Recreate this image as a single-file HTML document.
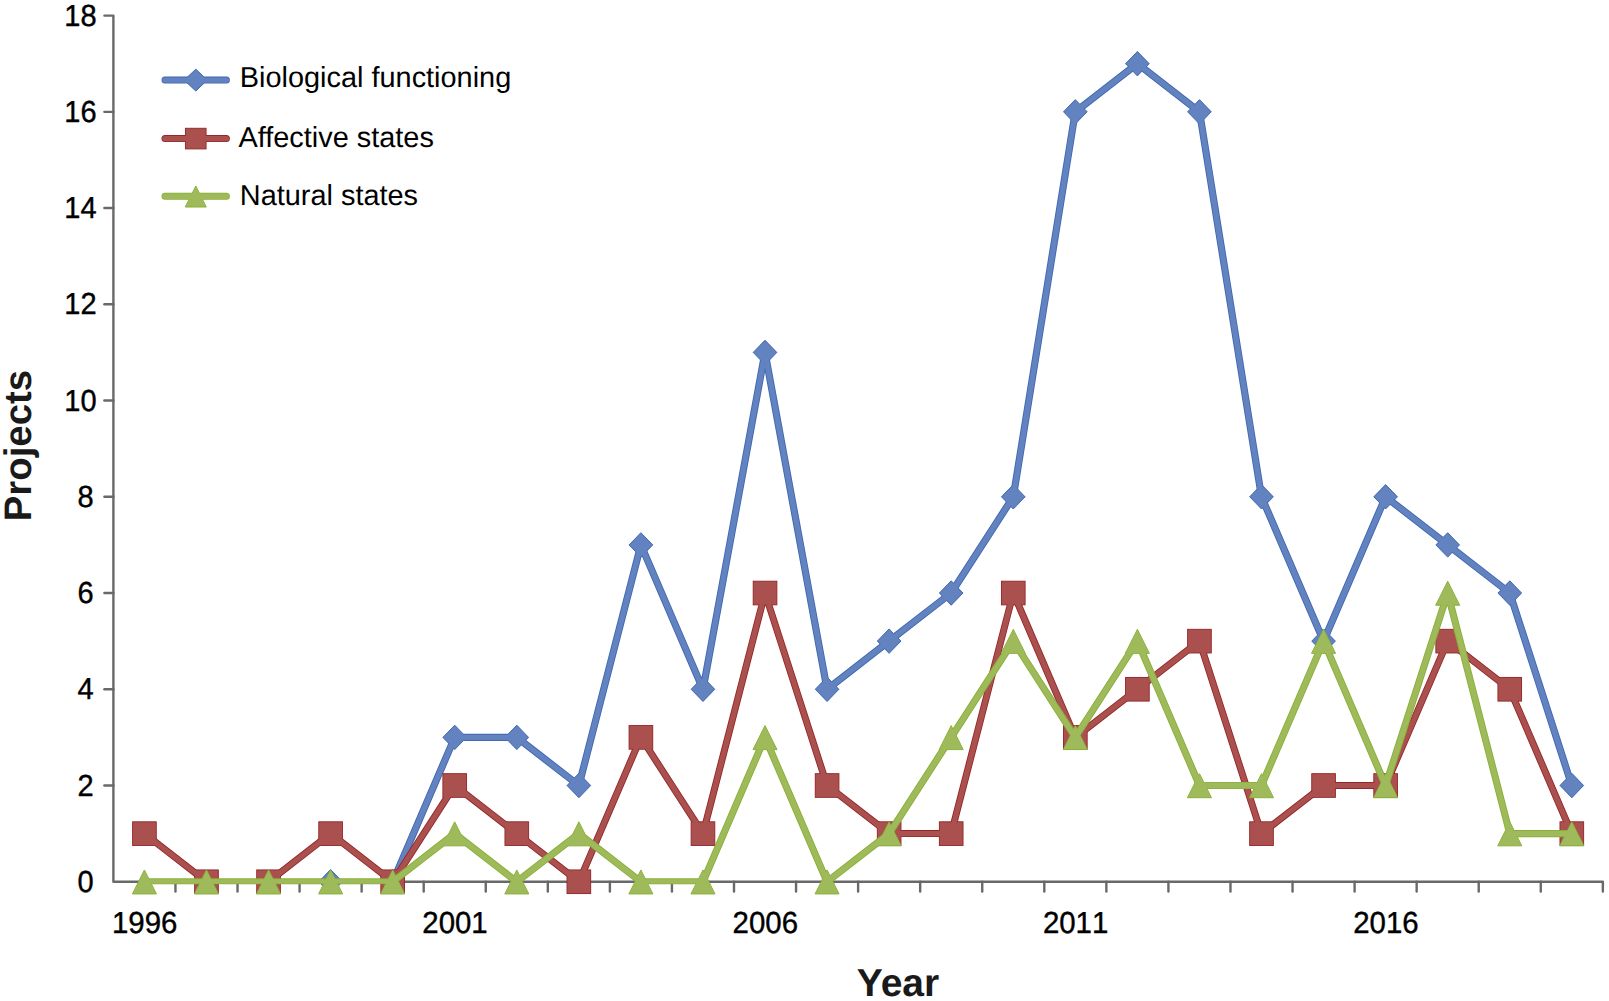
<!DOCTYPE html>
<html><head><meta charset="utf-8"><title>Projects per year</title>
<style>html,body{margin:0;padding:0;background:#fff}svg{display:block}text{font-family:"Liberation Sans",sans-serif;text-rendering:geometricPrecision}</style></head><body>
<svg width="1609" height="1001" viewBox="0 0 1609 1001">
<defs><clipPath id="pc"><rect x="0" y="0" width="1609" height="884.3"/></clipPath><clipPath id="pc2"><rect x="0" y="0" width="1609" height="883.4"/></clipPath></defs>
<rect width="1609" height="1001" fill="#fff"/>
<g stroke="#696969" stroke-width="2.4" fill="none" stroke-linecap="round" stroke-linejoin="round">
<path d="M104.4 15.59H113.4V881.75H1602.85V891.6"/>
<path d="M104.4 785.51H113.4"/>
<path d="M104.4 689.27H113.4"/>
<path d="M104.4 593.03H113.4"/>
<path d="M104.4 496.79H113.4"/>
<path d="M104.4 400.55H113.4"/>
<path d="M104.4 304.31H113.4"/>
<path d="M104.4 208.07H113.4"/>
<path d="M104.4 111.83H113.4"/>
<path d="M175.46 881.75V891.6"/>
<path d="M237.52 881.75V891.6"/>
<path d="M299.58 881.75V891.6"/>
<path d="M361.64 881.75V891.6"/>
<path d="M423.70 881.75V891.6"/>
<path d="M485.76 881.75V891.6"/>
<path d="M547.82 881.75V891.6"/>
<path d="M609.88 881.75V891.6"/>
<path d="M671.94 881.75V891.6"/>
<path d="M734.00 881.75V891.6"/>
<path d="M796.06 881.75V891.6"/>
<path d="M858.12 881.75V891.6"/>
<path d="M920.18 881.75V891.6"/>
<path d="M982.24 881.75V891.6"/>
<path d="M1044.30 881.75V891.6"/>
<path d="M1106.36 881.75V891.6"/>
<path d="M1168.42 881.75V891.6"/>
<path d="M1230.48 881.75V891.6"/>
<path d="M1292.54 881.75V891.6"/>
<path d="M1354.60 881.75V891.6"/>
<path d="M1416.66 881.75V891.6"/>
<path d="M1478.72 881.75V891.6"/>
<path d="M1540.78 881.75V891.6"/>
</g>
<g font-size="30.4" fill="#000" stroke="#000" stroke-width="0.4" text-anchor="end" style="font-kerning:none">
<text transform="translate(93.6 891.8) scale(0.955 1)">0</text>
<text transform="translate(93.6 795.5) scale(0.955 1)">2</text>
<text transform="translate(93.6 699.3) scale(0.955 1)">4</text>
<text transform="translate(93.6 603.0) scale(0.955 1)">6</text>
<text transform="translate(93.6 506.8) scale(0.955 1)">8</text>
<text transform="translate(96.6 410.6) scale(0.955 1)">10</text>
<text transform="translate(96.6 314.3) scale(0.955 1)">12</text>
<text transform="translate(96.6 218.1) scale(0.955 1)">14</text>
<text transform="translate(96.6 121.8) scale(0.955 1)">16</text>
<text transform="translate(96.6 25.6) scale(0.955 1)">18</text>
</g>
<g font-size="30.4" fill="#000" stroke="#000" stroke-width="0.4" text-anchor="middle" style="font-kerning:none">
<text transform="translate(144.7 933.2) scale(0.968 1)">1996</text>
<text transform="translate(455.0 933.2) scale(0.968 1)">2001</text>
<text transform="translate(765.3 933.2) scale(0.968 1)">2006</text>
<text transform="translate(1075.6 933.2) scale(0.968 1)">2011</text>
<text transform="translate(1385.9 933.2) scale(0.968 1)">2016</text>
</g>
<path d="M330.6 881.8 M392.7 881.8 L454.7 737.4 L516.8 737.4 L578.9 785.5 L640.9 544.9 L703.0 689.3 L765.0 352.4 L827.1 689.3 L889.1 641.1 L951.2 593.0 L1013.3 496.8 L1075.3 111.8 L1137.4 63.7 L1199.5 111.8 L1261.5 496.8 L1323.6 641.1 L1385.6 496.8 L1447.7 544.9 L1509.8 593.0 L1571.8 785.5" clip-path="url(#pc)" fill="none" stroke="#3f67b2" stroke-width="7.2" stroke-linejoin="round" stroke-linecap="round"/>
<path d="M330.6 869.55L342.41 881.8L330.6 893.95L318.81 881.8Z" fill="#3f67b2" stroke="#3f67b2" stroke-width="1"/>
<path d="M392.7 869.55L404.47 881.8L392.7 893.95L380.87 881.8Z" fill="#3f67b2" stroke="#3f67b2" stroke-width="1"/>
<path d="M454.7 725.19L466.53 737.4L454.7 749.59L442.93 737.4Z" fill="#3f67b2" stroke="#3f67b2" stroke-width="1"/>
<path d="M516.8 725.19L528.59 737.4L516.8 749.59L504.99 737.4Z" fill="#3f67b2" stroke="#3f67b2" stroke-width="1"/>
<path d="M578.9 773.31L590.65 785.5L578.9 797.71L567.05 785.5Z" fill="#3f67b2" stroke="#3f67b2" stroke-width="1"/>
<path d="M640.9 532.71L652.71 544.9L640.9 557.11L629.11 544.9Z" fill="#3f67b2" stroke="#3f67b2" stroke-width="1"/>
<path d="M703.0 677.07L714.77 689.3L703.0 701.47L691.17 689.3Z" fill="#3f67b2" stroke="#3f67b2" stroke-width="1"/>
<path d="M765.0 340.23L776.83 352.4L765.0 364.63L753.23 352.4Z" fill="#3f67b2" stroke="#3f67b2" stroke-width="1"/>
<path d="M827.1 677.07L838.89 689.3L827.1 701.47L815.29 689.3Z" fill="#3f67b2" stroke="#3f67b2" stroke-width="1"/>
<path d="M889.1 628.95L900.95 641.1L889.1 653.35L877.35 641.1Z" fill="#3f67b2" stroke="#3f67b2" stroke-width="1"/>
<path d="M951.2 580.83L963.01 593.0L951.2 605.23L939.41 593.0Z" fill="#3f67b2" stroke="#3f67b2" stroke-width="1"/>
<path d="M1013.3 484.59L1025.07 496.8L1013.3 508.99L1001.47 496.8Z" fill="#3f67b2" stroke="#3f67b2" stroke-width="1"/>
<path d="M1075.3 99.63L1087.13 111.8L1075.3 124.03L1063.53 111.8Z" fill="#3f67b2" stroke="#3f67b2" stroke-width="1"/>
<path d="M1137.4 51.51L1149.19 63.7L1137.4 75.91L1125.59 63.7Z" fill="#3f67b2" stroke="#3f67b2" stroke-width="1"/>
<path d="M1199.5 99.63L1211.25 111.8L1199.5 124.03L1187.65 111.8Z" fill="#3f67b2" stroke="#3f67b2" stroke-width="1"/>
<path d="M1261.5 484.59L1273.31 496.8L1261.5 508.99L1249.71 496.8Z" fill="#3f67b2" stroke="#3f67b2" stroke-width="1"/>
<path d="M1323.6 628.95L1335.37 641.1L1323.6 653.35L1311.77 641.1Z" fill="#3f67b2" stroke="#3f67b2" stroke-width="1"/>
<path d="M1385.6 484.59L1397.43 496.8L1385.6 508.99L1373.83 496.8Z" fill="#3f67b2" stroke="#3f67b2" stroke-width="1"/>
<path d="M1447.7 532.71L1459.49 544.9L1447.7 557.11L1435.89 544.9Z" fill="#3f67b2" stroke="#3f67b2" stroke-width="1"/>
<path d="M1509.8 580.83L1521.55 593.0L1509.8 605.23L1497.95 593.0Z" fill="#3f67b2" stroke="#3f67b2" stroke-width="1"/>
<path d="M1571.8 773.31L1583.61 785.5L1571.8 797.71L1560.01 785.5Z" fill="#3f67b2" stroke="#3f67b2" stroke-width="1"/>
<path d="M330.6 881.8 M392.7 881.8 L454.7 737.4 L516.8 737.4 L578.9 785.5 L640.9 544.9 L703.0 689.3 L765.0 352.4 L827.1 689.3 L889.1 641.1 L951.2 593.0 L1013.3 496.8 L1075.3 111.8 L1137.4 63.7 L1199.5 111.8 L1261.5 496.8 L1323.6 641.1 L1385.6 496.8 L1447.7 544.9 L1509.8 593.0 L1571.8 785.5" clip-path="url(#pc2)" fill="none" stroke="#6283bf" stroke-width="5.40" stroke-linejoin="round" stroke-linecap="round"/>
<path d="M330.6 869.95L342.01 881.8L330.6 893.55L319.21 881.8Z" fill="#6283bf" stroke="none" stroke-width="1"/>
<path d="M392.7 869.95L404.07 881.8L392.7 893.55L381.27 881.8Z" fill="#6283bf" stroke="none" stroke-width="1"/>
<path d="M454.7 725.59L466.13 737.4L454.7 749.19L443.33 737.4Z" fill="#6283bf" stroke="none" stroke-width="1"/>
<path d="M516.8 725.59L528.19 737.4L516.8 749.19L505.39 737.4Z" fill="#6283bf" stroke="none" stroke-width="1"/>
<path d="M578.9 773.71L590.25 785.5L578.9 797.31L567.45 785.5Z" fill="#6283bf" stroke="none" stroke-width="1"/>
<path d="M640.9 533.11L652.31 544.9L640.9 556.71L629.51 544.9Z" fill="#6283bf" stroke="none" stroke-width="1"/>
<path d="M703.0 677.47L714.37 689.3L703.0 701.07L691.57 689.3Z" fill="#6283bf" stroke="none" stroke-width="1"/>
<path d="M765.0 340.63L776.43 352.4L765.0 364.23L753.63 352.4Z" fill="#6283bf" stroke="none" stroke-width="1"/>
<path d="M827.1 677.47L838.49 689.3L827.1 701.07L815.69 689.3Z" fill="#6283bf" stroke="none" stroke-width="1"/>
<path d="M889.1 629.35L900.55 641.1L889.1 652.95L877.75 641.1Z" fill="#6283bf" stroke="none" stroke-width="1"/>
<path d="M951.2 581.23L962.61 593.0L951.2 604.83L939.81 593.0Z" fill="#6283bf" stroke="none" stroke-width="1"/>
<path d="M1013.3 484.99L1024.67 496.8L1013.3 508.59L1001.87 496.8Z" fill="#6283bf" stroke="none" stroke-width="1"/>
<path d="M1075.3 100.03L1086.73 111.8L1075.3 123.63L1063.93 111.8Z" fill="#6283bf" stroke="none" stroke-width="1"/>
<path d="M1137.4 51.91L1148.79 63.7L1137.4 75.51L1125.99 63.7Z" fill="#6283bf" stroke="none" stroke-width="1"/>
<path d="M1199.5 100.03L1210.85 111.8L1199.5 123.63L1188.05 111.8Z" fill="#6283bf" stroke="none" stroke-width="1"/>
<path d="M1261.5 484.99L1272.91 496.8L1261.5 508.59L1250.11 496.8Z" fill="#6283bf" stroke="none" stroke-width="1"/>
<path d="M1323.6 629.35L1334.97 641.1L1323.6 652.95L1312.17 641.1Z" fill="#6283bf" stroke="none" stroke-width="1"/>
<path d="M1385.6 484.99L1397.03 496.8L1385.6 508.59L1374.23 496.8Z" fill="#6283bf" stroke="none" stroke-width="1"/>
<path d="M1447.7 533.11L1459.09 544.9L1447.7 556.71L1436.29 544.9Z" fill="#6283bf" stroke="none" stroke-width="1"/>
<path d="M1509.8 581.23L1521.15 593.0L1509.8 604.83L1498.35 593.0Z" fill="#6283bf" stroke="none" stroke-width="1"/>
<path d="M1571.8 773.71L1583.21 785.5L1571.8 797.31L1560.41 785.5Z" fill="#6283bf" stroke="none" stroke-width="1"/>
<path d="M144.4 833.6 L206.5 881.8 M268.6 881.8 L330.6 833.6 L392.7 881.8 L454.7 785.5 L516.8 833.6 L578.9 881.8 L640.9 737.4 L703.0 833.6 L765.0 593.0 L827.1 785.5 L889.1 833.6 L951.2 833.6 L1013.3 593.0 L1075.3 737.4 L1137.4 689.3 L1199.5 641.1 L1261.5 833.6 L1323.6 785.5 L1385.6 785.5 L1447.7 641.1 L1509.8 689.3 L1571.8 833.6" clip-path="url(#pc)" fill="none" stroke="#952829" stroke-width="7.0" stroke-linejoin="round" stroke-linecap="round"/>
<rect x="132.63" y="821.83" width="23.6" height="23.6" fill="#952829" stroke="#952829" stroke-width="1"/>
<rect x="194.69" y="869.95" width="23.6" height="23.6" fill="#952829" stroke="#952829" stroke-width="1"/>
<rect x="256.75" y="869.95" width="23.6" height="23.6" fill="#952829" stroke="#952829" stroke-width="1"/>
<rect x="318.81" y="821.83" width="23.6" height="23.6" fill="#952829" stroke="#952829" stroke-width="1"/>
<rect x="380.87" y="869.95" width="23.6" height="23.6" fill="#952829" stroke="#952829" stroke-width="1"/>
<rect x="442.93" y="773.71" width="23.6" height="23.6" fill="#952829" stroke="#952829" stroke-width="1"/>
<rect x="504.99" y="821.83" width="23.6" height="23.6" fill="#952829" stroke="#952829" stroke-width="1"/>
<rect x="567.05" y="869.95" width="23.6" height="23.6" fill="#952829" stroke="#952829" stroke-width="1"/>
<rect x="629.11" y="725.59" width="23.6" height="23.6" fill="#952829" stroke="#952829" stroke-width="1"/>
<rect x="691.17" y="821.83" width="23.6" height="23.6" fill="#952829" stroke="#952829" stroke-width="1"/>
<rect x="753.23" y="581.23" width="23.6" height="23.6" fill="#952829" stroke="#952829" stroke-width="1"/>
<rect x="815.29" y="773.71" width="23.6" height="23.6" fill="#952829" stroke="#952829" stroke-width="1"/>
<rect x="877.35" y="821.83" width="23.6" height="23.6" fill="#952829" stroke="#952829" stroke-width="1"/>
<rect x="939.41" y="821.83" width="23.6" height="23.6" fill="#952829" stroke="#952829" stroke-width="1"/>
<rect x="1001.47" y="581.23" width="23.6" height="23.6" fill="#952829" stroke="#952829" stroke-width="1"/>
<rect x="1063.53" y="725.59" width="23.6" height="23.6" fill="#952829" stroke="#952829" stroke-width="1"/>
<rect x="1125.59" y="677.47" width="23.6" height="23.6" fill="#952829" stroke="#952829" stroke-width="1"/>
<rect x="1187.65" y="629.35" width="23.6" height="23.6" fill="#952829" stroke="#952829" stroke-width="1"/>
<rect x="1249.71" y="821.83" width="23.6" height="23.6" fill="#952829" stroke="#952829" stroke-width="1"/>
<rect x="1311.77" y="773.71" width="23.6" height="23.6" fill="#952829" stroke="#952829" stroke-width="1"/>
<rect x="1373.83" y="773.71" width="23.6" height="23.6" fill="#952829" stroke="#952829" stroke-width="1"/>
<rect x="1435.89" y="629.35" width="23.6" height="23.6" fill="#952829" stroke="#952829" stroke-width="1"/>
<rect x="1497.95" y="677.47" width="23.6" height="23.6" fill="#952829" stroke="#952829" stroke-width="1"/>
<rect x="1560.01" y="821.83" width="23.6" height="23.6" fill="#952829" stroke="#952829" stroke-width="1"/>
<path d="M144.4 833.6 L206.5 881.8 M268.6 881.8 L330.6 833.6 L392.7 881.8 L454.7 785.5 L516.8 833.6 L578.9 881.8 L640.9 737.4 L703.0 833.6 L765.0 593.0 L827.1 785.5 L889.1 833.6 L951.2 833.6 L1013.3 593.0 L1075.3 737.4 L1137.4 689.3 L1199.5 641.1 L1261.5 833.6 L1323.6 785.5 L1385.6 785.5 L1447.7 641.1 L1509.8 689.3 L1571.8 833.6" clip-path="url(#pc2)" fill="none" stroke="#aa514f" stroke-width="5.20" stroke-linejoin="round" stroke-linecap="round"/>
<rect x="133.03" y="822.23" width="22.8" height="22.8" fill="#aa514f" stroke="none" stroke-width="1"/>
<rect x="195.09" y="870.35" width="22.8" height="22.8" fill="#aa514f" stroke="none" stroke-width="1"/>
<rect x="257.15" y="870.35" width="22.8" height="22.8" fill="#aa514f" stroke="none" stroke-width="1"/>
<rect x="319.21" y="822.23" width="22.8" height="22.8" fill="#aa514f" stroke="none" stroke-width="1"/>
<rect x="381.27" y="870.35" width="22.8" height="22.8" fill="#aa514f" stroke="none" stroke-width="1"/>
<rect x="443.33" y="774.11" width="22.8" height="22.8" fill="#aa514f" stroke="none" stroke-width="1"/>
<rect x="505.39" y="822.23" width="22.8" height="22.8" fill="#aa514f" stroke="none" stroke-width="1"/>
<rect x="567.45" y="870.35" width="22.8" height="22.8" fill="#aa514f" stroke="none" stroke-width="1"/>
<rect x="629.51" y="725.99" width="22.8" height="22.8" fill="#aa514f" stroke="none" stroke-width="1"/>
<rect x="691.57" y="822.23" width="22.8" height="22.8" fill="#aa514f" stroke="none" stroke-width="1"/>
<rect x="753.63" y="581.63" width="22.8" height="22.8" fill="#aa514f" stroke="none" stroke-width="1"/>
<rect x="815.69" y="774.11" width="22.8" height="22.8" fill="#aa514f" stroke="none" stroke-width="1"/>
<rect x="877.75" y="822.23" width="22.8" height="22.8" fill="#aa514f" stroke="none" stroke-width="1"/>
<rect x="939.81" y="822.23" width="22.8" height="22.8" fill="#aa514f" stroke="none" stroke-width="1"/>
<rect x="1001.87" y="581.63" width="22.8" height="22.8" fill="#aa514f" stroke="none" stroke-width="1"/>
<rect x="1063.93" y="725.99" width="22.8" height="22.8" fill="#aa514f" stroke="none" stroke-width="1"/>
<rect x="1125.99" y="677.87" width="22.8" height="22.8" fill="#aa514f" stroke="none" stroke-width="1"/>
<rect x="1188.05" y="629.75" width="22.8" height="22.8" fill="#aa514f" stroke="none" stroke-width="1"/>
<rect x="1250.11" y="822.23" width="22.8" height="22.8" fill="#aa514f" stroke="none" stroke-width="1"/>
<rect x="1312.17" y="774.11" width="22.8" height="22.8" fill="#aa514f" stroke="none" stroke-width="1"/>
<rect x="1374.23" y="774.11" width="22.8" height="22.8" fill="#aa514f" stroke="none" stroke-width="1"/>
<rect x="1436.29" y="629.75" width="22.8" height="22.8" fill="#aa514f" stroke="none" stroke-width="1"/>
<rect x="1498.35" y="677.87" width="22.8" height="22.8" fill="#aa514f" stroke="none" stroke-width="1"/>
<rect x="1560.41" y="822.23" width="22.8" height="22.8" fill="#aa514f" stroke="none" stroke-width="1"/>
<path d="M144.4 881.8 L206.5 881.8 L268.6 881.8 L330.6 881.8 L392.7 881.8 L454.7 833.6 L516.8 881.8 L578.9 833.6 L640.9 881.8 L703.0 881.8 L765.0 737.4 L827.1 881.8 L889.1 833.6 L951.2 737.4 L1013.3 641.1 L1075.3 737.4 L1137.4 641.1 L1199.5 785.5 L1261.5 785.5 L1323.6 641.1 L1385.6 785.5 L1447.7 593.0 L1509.8 833.6 L1571.8 833.6" clip-path="url(#pc)" fill="none" stroke="#89b035" stroke-width="7.1" stroke-linejoin="round" stroke-linecap="round"/>
<path d="M144.4 869.95L156.43 893.95L132.43 893.95Z" fill="#89b035" stroke="#89b035" stroke-width="1" stroke-linejoin="round"/>
<path d="M206.5 869.95L218.49 893.95L194.49 893.95Z" fill="#89b035" stroke="#89b035" stroke-width="1" stroke-linejoin="round"/>
<path d="M268.6 869.95L280.55 893.95L256.55 893.95Z" fill="#89b035" stroke="#89b035" stroke-width="1" stroke-linejoin="round"/>
<path d="M330.6 869.95L342.61 893.95L318.61 893.95Z" fill="#89b035" stroke="#89b035" stroke-width="1" stroke-linejoin="round"/>
<path d="M392.7 869.95L404.67 893.95L380.67 893.95Z" fill="#89b035" stroke="#89b035" stroke-width="1" stroke-linejoin="round"/>
<path d="M454.7 821.83L466.73 845.83L442.73 845.83Z" fill="#89b035" stroke="#89b035" stroke-width="1" stroke-linejoin="round"/>
<path d="M516.8 869.95L528.79 893.95L504.79 893.95Z" fill="#89b035" stroke="#89b035" stroke-width="1" stroke-linejoin="round"/>
<path d="M578.9 821.83L590.85 845.83L566.85 845.83Z" fill="#89b035" stroke="#89b035" stroke-width="1" stroke-linejoin="round"/>
<path d="M640.9 869.95L652.91 893.95L628.91 893.95Z" fill="#89b035" stroke="#89b035" stroke-width="1" stroke-linejoin="round"/>
<path d="M703.0 869.95L714.97 893.95L690.97 893.95Z" fill="#89b035" stroke="#89b035" stroke-width="1" stroke-linejoin="round"/>
<path d="M765.0 725.59L777.03 749.59L753.03 749.59Z" fill="#89b035" stroke="#89b035" stroke-width="1" stroke-linejoin="round"/>
<path d="M827.1 869.95L839.09 893.95L815.09 893.95Z" fill="#89b035" stroke="#89b035" stroke-width="1" stroke-linejoin="round"/>
<path d="M889.1 821.83L901.15 845.83L877.15 845.83Z" fill="#89b035" stroke="#89b035" stroke-width="1" stroke-linejoin="round"/>
<path d="M951.2 725.59L963.21 749.59L939.21 749.59Z" fill="#89b035" stroke="#89b035" stroke-width="1" stroke-linejoin="round"/>
<path d="M1013.3 629.35L1025.27 653.35L1001.27 653.35Z" fill="#89b035" stroke="#89b035" stroke-width="1" stroke-linejoin="round"/>
<path d="M1075.3 725.59L1087.33 749.59L1063.33 749.59Z" fill="#89b035" stroke="#89b035" stroke-width="1" stroke-linejoin="round"/>
<path d="M1137.4 629.35L1149.39 653.35L1125.39 653.35Z" fill="#89b035" stroke="#89b035" stroke-width="1" stroke-linejoin="round"/>
<path d="M1199.5 773.71L1211.45 797.71L1187.45 797.71Z" fill="#89b035" stroke="#89b035" stroke-width="1" stroke-linejoin="round"/>
<path d="M1261.5 773.71L1273.51 797.71L1249.51 797.71Z" fill="#89b035" stroke="#89b035" stroke-width="1" stroke-linejoin="round"/>
<path d="M1323.6 629.35L1335.57 653.35L1311.57 653.35Z" fill="#89b035" stroke="#89b035" stroke-width="1" stroke-linejoin="round"/>
<path d="M1385.6 773.71L1397.63 797.71L1373.63 797.71Z" fill="#89b035" stroke="#89b035" stroke-width="1" stroke-linejoin="round"/>
<path d="M1447.7 581.23L1459.69 605.23L1435.69 605.23Z" fill="#89b035" stroke="#89b035" stroke-width="1" stroke-linejoin="round"/>
<path d="M1509.8 821.83L1521.75 845.83L1497.75 845.83Z" fill="#89b035" stroke="#89b035" stroke-width="1" stroke-linejoin="round"/>
<path d="M1571.8 821.83L1583.81 845.83L1559.81 845.83Z" fill="#89b035" stroke="#89b035" stroke-width="1" stroke-linejoin="round"/>
<path d="M144.4 881.8 L206.5 881.8 L268.6 881.8 L330.6 881.8 L392.7 881.8 L454.7 833.6 L516.8 881.8 L578.9 833.6 L640.9 881.8 L703.0 881.8 L765.0 737.4 L827.1 881.8 L889.1 833.6 L951.2 737.4 L1013.3 641.1 L1075.3 737.4 L1137.4 641.1 L1199.5 785.5 L1261.5 785.5 L1323.6 641.1 L1385.6 785.5 L1447.7 593.0 L1509.8 833.6 L1571.8 833.6" clip-path="url(#pc2)" fill="none" stroke="#9fba5b" stroke-width="5.30" stroke-linejoin="round" stroke-linecap="round"/>
<path d="M144.4 870.35L156.03 893.55L132.83 893.55Z" fill="#9fba5b" stroke="none" stroke-width="1" stroke-linejoin="round"/>
<path d="M206.5 870.35L218.09 893.55L194.89 893.55Z" fill="#9fba5b" stroke="none" stroke-width="1" stroke-linejoin="round"/>
<path d="M268.6 870.35L280.15 893.55L256.95 893.55Z" fill="#9fba5b" stroke="none" stroke-width="1" stroke-linejoin="round"/>
<path d="M330.6 870.35L342.21 893.55L319.01 893.55Z" fill="#9fba5b" stroke="none" stroke-width="1" stroke-linejoin="round"/>
<path d="M392.7 870.35L404.27 893.55L381.07 893.55Z" fill="#9fba5b" stroke="none" stroke-width="1" stroke-linejoin="round"/>
<path d="M454.7 822.23L466.33 845.43L443.13 845.43Z" fill="#9fba5b" stroke="none" stroke-width="1" stroke-linejoin="round"/>
<path d="M516.8 870.35L528.39 893.55L505.19 893.55Z" fill="#9fba5b" stroke="none" stroke-width="1" stroke-linejoin="round"/>
<path d="M578.9 822.23L590.45 845.43L567.25 845.43Z" fill="#9fba5b" stroke="none" stroke-width="1" stroke-linejoin="round"/>
<path d="M640.9 870.35L652.51 893.55L629.31 893.55Z" fill="#9fba5b" stroke="none" stroke-width="1" stroke-linejoin="round"/>
<path d="M703.0 870.35L714.57 893.55L691.37 893.55Z" fill="#9fba5b" stroke="none" stroke-width="1" stroke-linejoin="round"/>
<path d="M765.0 725.99L776.63 749.19L753.43 749.19Z" fill="#9fba5b" stroke="none" stroke-width="1" stroke-linejoin="round"/>
<path d="M827.1 870.35L838.69 893.55L815.49 893.55Z" fill="#9fba5b" stroke="none" stroke-width="1" stroke-linejoin="round"/>
<path d="M889.1 822.23L900.75 845.43L877.55 845.43Z" fill="#9fba5b" stroke="none" stroke-width="1" stroke-linejoin="round"/>
<path d="M951.2 725.99L962.81 749.19L939.61 749.19Z" fill="#9fba5b" stroke="none" stroke-width="1" stroke-linejoin="round"/>
<path d="M1013.3 629.75L1024.87 652.95L1001.67 652.95Z" fill="#9fba5b" stroke="none" stroke-width="1" stroke-linejoin="round"/>
<path d="M1075.3 725.99L1086.93 749.19L1063.73 749.19Z" fill="#9fba5b" stroke="none" stroke-width="1" stroke-linejoin="round"/>
<path d="M1137.4 629.75L1148.99 652.95L1125.79 652.95Z" fill="#9fba5b" stroke="none" stroke-width="1" stroke-linejoin="round"/>
<path d="M1199.5 774.11L1211.05 797.31L1187.85 797.31Z" fill="#9fba5b" stroke="none" stroke-width="1" stroke-linejoin="round"/>
<path d="M1261.5 774.11L1273.11 797.31L1249.91 797.31Z" fill="#9fba5b" stroke="none" stroke-width="1" stroke-linejoin="round"/>
<path d="M1323.6 629.75L1335.17 652.95L1311.97 652.95Z" fill="#9fba5b" stroke="none" stroke-width="1" stroke-linejoin="round"/>
<path d="M1385.6 774.11L1397.23 797.31L1374.03 797.31Z" fill="#9fba5b" stroke="none" stroke-width="1" stroke-linejoin="round"/>
<path d="M1447.7 581.63L1459.29 604.83L1436.09 604.83Z" fill="#9fba5b" stroke="none" stroke-width="1" stroke-linejoin="round"/>
<path d="M1509.8 822.23L1521.35 845.43L1498.15 845.43Z" fill="#9fba5b" stroke="none" stroke-width="1" stroke-linejoin="round"/>
<path d="M1571.8 822.23L1583.41 845.43L1560.21 845.43Z" fill="#9fba5b" stroke="none" stroke-width="1" stroke-linejoin="round"/>
<path d="M165 80.1H226.4" stroke="#3f67b2" stroke-width="7.0" stroke-linecap="round"/>
<path d="M195.8 69.20L207.35 80.1L195.8 91.00L184.15 80.1Z" fill="#3f67b2" stroke="#3f67b2" stroke-width="1"/>
<path d="M165 80.1H226.4" stroke="#6283bf" stroke-width="5.4" stroke-linecap="round"/>
<path d="M195.8 69.60L206.95 80.1L195.8 90.60L184.55 80.1Z" fill="#6283bf" stroke="none" stroke-width="1"/>
<text x="239.8" y="87.3" font-size="28.9" fill="#000">Biological functioning</text>
<path d="M165 138.6H226.4" stroke="#952829" stroke-width="7.0" stroke-linecap="round"/>
<rect x="185.45" y="128.30" width="20.6" height="20.6" fill="#952829" stroke="#952829" stroke-width="1"/>
<path d="M165 138.6H226.4" stroke="#aa514f" stroke-width="5.4" stroke-linecap="round"/>
<rect x="185.85" y="128.70" width="19.8" height="19.8" fill="#aa514f" stroke="none" stroke-width="1"/>
<text x="238.5" y="146.7" font-size="28.9" fill="#000">Affective states</text>
<path d="M165 196.3H226.4" stroke="#89b035" stroke-width="7.0" stroke-linecap="round"/>
<path d="M195.8 186.00L206.25 207.00L185.25 207.00Z" fill="#89b035" stroke="#89b035" stroke-width="1" stroke-linejoin="round"/>
<path d="M165 196.3H226.4" stroke="#9fba5b" stroke-width="5.4" stroke-linecap="round"/>
<path d="M195.8 186.40L205.85 206.60L185.65 206.60Z" fill="#9fba5b" stroke="none" stroke-width="1" stroke-linejoin="round"/>
<text x="239.8" y="205.3" font-size="28.9" fill="#000">Natural states</text>
<text x="898" y="995.7" font-size="39" font-weight="bold" fill="#1a1a1a" text-anchor="middle">Year</text>
<text transform="translate(31.2 445.6) rotate(-90)" font-size="38.4" font-weight="bold" fill="#1a1a1a" text-anchor="middle">Projects</text>
</svg></body></html>
